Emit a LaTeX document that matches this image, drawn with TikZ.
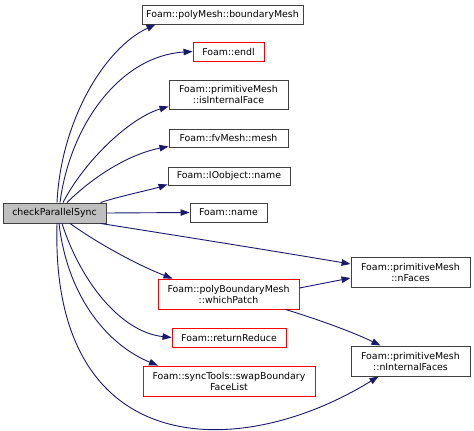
\documentclass[tikz,border=0pt]{standalone}
\usepackage{fontspec}
\setmainfont{DejaVu Sans}
\usetikzlibrary{arrows.meta}
\definecolor{edgecol}{HTML}{191970}
\definecolor{boxgray}{HTML}{404040}
\definecolor{rootfill}{HTML}{BFBFBF}
\begin{document}
\begin{tikzpicture}[x=1pt,y=-1pt,
  every node/.style={font=\fontsize{9.4}{11}\selectfont, align=center, inner sep=0pt},
  box/.style={draw=boxgray, fill=white, line width=0.9pt},
  redbox/.style={draw=red, fill=white, line width=0.9pt},
  root/.style={draw=boxgray, fill=rootfill, line width=0.9pt},
  edge/.style={draw=edgecol, line width=0.9pt, -{Triangle[length=9pt,width=6.5pt]}}]
\useasboundingbox (0,0) rectangle (474,431);
\node[root, minimum width=103pt, minimum height=20pt] (cps) at (54.5,213) {checkParallelSync};
\node[box, minimum width=161pt, minimum height=19pt] (bm) at (222.5,14.5) {Foam::polyMesh::boundaryMesh};
\node[redbox, minimum width=71pt, minimum height=19pt] (endl) at (228.5,51.5) {Foam::endl};
\node[box, minimum width=119pt, minimum height=29pt] (iif) at (228.5,94.5) {Foam::primitiveMesh\\::isInternalFace};
\node[box, minimum width=119pt, minimum height=18pt] (mesh) at (228.5,138) {Foam::fvMesh::mesh};
\node[box, minimum width=122pt, minimum height=18pt] (ioname) at (229,176) {Foam::IOobject::name};
\node[box, minimum width=77pt, minimum height=19pt] (name) at (228.5,212.5) {Foam::name};
\node[box, minimum width=119pt, minimum height=30pt] (nf) at (410.5,272) {Foam::primitiveMesh\\::nFaces};
\node[redbox, minimum width=141pt, minimum height=30pt] (wp) at (228.5,294) {Foam::polyBoundaryMesh\\::whichPatch};
\node[redbox, minimum width=114pt, minimum height=19pt] (rr) at (229,337.5) {Foam::returnReduce};
\node[box, minimum width=119pt, minimum height=30pt] (nif) at (410.5,361) {Foam::primitiveMesh\\::nInternalFaces};
\node[redbox, minimum width=172pt, minimum height=30pt] (sw) at (229,381) {Foam::syncTools::swapBoundary\\FaceList};
\path[edge] ([xshift=2.5pt]cps.north) .. controls (61,120) and (105,48) .. ([xshift=-67pt]bm.south);
\path[edge] ([xshift=5.5pt]cps.north) .. controls (70,125) and (120,56) .. (endl.west);
\path[edge] ([xshift=8.5pt]cps.north) .. controls (85,160) and (130,118) .. ([yshift=3pt]iif.south west);
\path[edge] ([xshift=12.5pt]cps.north) .. controls (95,175) and (130,154) .. ([yshift=1pt]mesh.south west);
\path[edge] ([xshift=-6pt]cps.north east) .. controls (120,196) and (150,190) .. ([yshift=1pt]ioname.south west);
\path[edge] (cps.east) -- (name.west);
\path[edge] ([xshift=-6pt]cps.south east) .. controls (180,236) and (280,252) .. ([yshift=8pt]nf.west);
\path[edge] ([xshift=15.5pt]cps.south) .. controls (100,245) and (140,266) .. ([xshift=-56pt]wp.north);
\path[edge] ([xshift=7.5pt]cps.south) .. controls (80,280) and (120,332) .. (rr.west);
\path[edge] ([xshift=4.5pt]cps.south) .. controls (68,300) and (110,346) .. ([xshift=-71pt]sw.north);
\path[edge] ([xshift=2.5pt]cps.south) .. controls (50,462) and (240,462) .. ([xshift=-32pt]nif.south);
\path[edge] ([yshift=6pt]wp.east) -- ([yshift=-6pt]nf.west);
\path[edge] ([xshift=57pt]wp.south) .. controls (320,320) and (355,333) .. ([xshift=-30pt]nif.north);
\end{tikzpicture}
\end{document}
